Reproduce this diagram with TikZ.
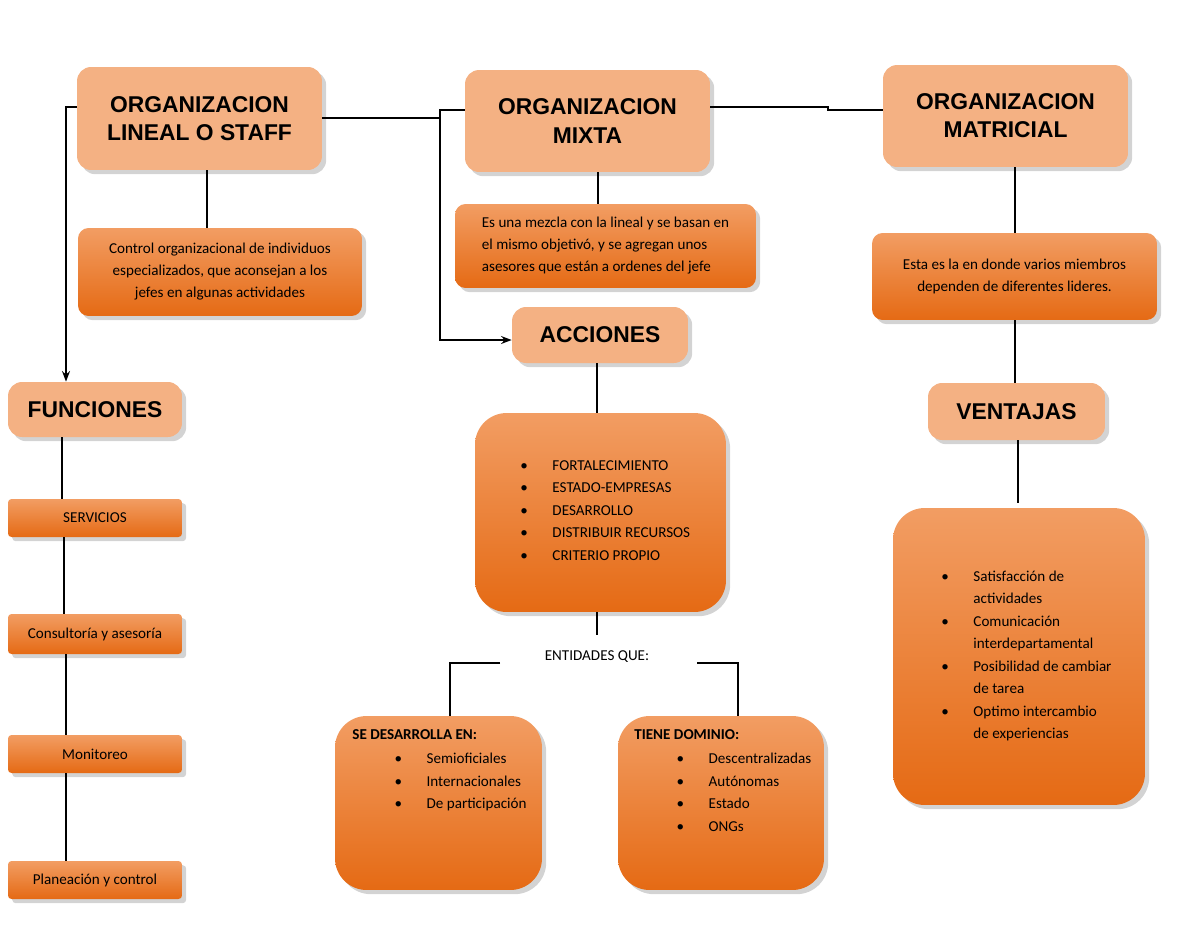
\documentclass[tikz,border=0pt]{standalone}
\usepackage{fontspec}
\setmainfont{Carlito}
\newfontfamily\headfont{Liberation Sans}
\usetikzlibrary{shadows,arrows.meta}
\definecolor{peach}{HTML}{F4B183}
\definecolor{orangetop}{HTML}{F29D63}
\definecolor{orangebot}{HTML}{E56A14}
\begin{document}
\begin{tikzpicture}[x=0.02cm,y=-0.02cm,
    head/.style={draw=none,fill=peach,rounded corners=8pt,drop shadow={opacity=0.35},
      font=\headfont\bfseries\fontsize{13}{16}\selectfont,align=center},
    body/.style={draw=none,top color=orangetop,bottom color=orangebot,rounded corners=6pt,
      drop shadow={opacity=0.35},font=\fontsize{8.6}{12.5}\selectfont,align=center},
    big/.style={body,rounded corners=18pt},
    item/.style={body,rounded corners=2pt,font=\fontsize{8.6}{10}\selectfont},
    list/.style={font=\fontsize{8.6}{12.8}\selectfont,align=left,anchor=north west,inner sep=0pt},
    link/.style={line width=1.4pt}]
  \useasboundingbox (0,0) rectangle (1200,927);

  % Top row
  \node[head,minimum width=4.9cm,minimum height=2.06cm] (lineal) at (199.5,118.5) {ORGANIZACION\\LINEAL O STAFF};
  \node[head,minimum width=4.9cm,minimum height=2.04cm] (mixta) at (587.5,121) {ORGANIZACION\\MIXTA};
  \node[head,minimum width=4.9cm,minimum height=2.04cm] (matricial) at (1005.5,116) {ORGANIZACION\\MATRICIAL};

  % Descriptions
  \node[body,minimum width=5.68cm,minimum height=1.76cm] (lindesc) at (220,272)
    {Control organizacional de individuos\\especializados, que aconsejan a los\\jefes en algunas actividades};
  \node[body,minimum width=6.02cm,minimum height=1.68cm,align=left] (mixdesc) at (605.5,246)
    {Es una mezcla con la lineal y se basan en\\el mismo objetivó, y se agregan unos\\asesores que están a ordenes del jefe};
  \node[body,minimum width=5.7cm,minimum height=1.74cm] (matdesc) at (1014.5,276.5)
    {Esta es la en donde varios miembros\\dependen de diferentes lideres.};

  % Second level
  \node[head,minimum width=3.52cm,minimum height=1.12cm] (acciones) at (600,335) {ACCIONES};
  \node[head,minimum width=3.48cm,minimum height=1.1cm] (funciones) at (95,409.5) {FUNCIONES};
  \node[head,minimum width=3.54cm,minimum height=1.14cm] (ventajas) at (1016.5,411.5) {VENTAJAS};

  % Acciones list
  \node[big,minimum width=5.02cm,minimum height=3.98cm] (accbox) at (600.5,512.5) {};
  \node[list] (acclist) at (520,454) {%
    \begin{tabular}{@{}l@{\hspace{14pt}}l@{}}
    \textbullet & FORTALECIMIENTO\\
    \textbullet & ESTADO-EMPRESAS\\
    \textbullet & DESARROLLO\\
    \textbullet & DISTRIBUIR RECURSOS\\
    \textbullet & CRITERIO PROPIO
    \end{tabular}};
  \node[font=\fontsize{8.6}{10}\selectfont] (entidades) at (597,657) {ENTIDADES QUE:};

  % Entidades boxes
  \node[big,minimum width=4.14cm,minimum height=3.48cm] (desbox) at (438.5,803) {};
  \node[list] (deslist) at (352,729) {%
    \textbf{SE DESARROLLA EN:}\\[4pt]
    \hspace{24pt}\begin{tabular}{@{}l@{\hspace{14pt}}l@{}}
    \textbullet & Semioficiales\\
    \textbullet & Internacionales\\
    \textbullet & De participación
    \end{tabular}};
  \node[big,minimum width=4.12cm,minimum height=3.48cm] (dombox) at (721,803) {};
  \node[list] (domlist) at (634,729) {%
    \textbf{TIENE DOMINIO:}\\[4pt]
    \hspace{24pt}\begin{tabular}{@{}l@{\hspace{14pt}}l@{}}
    \textbullet & Descentralizadas\\
    \textbullet & Autónomas\\
    \textbullet & Estado\\
    \textbullet & ONGs
    \end{tabular}};

  % Ventajas list
  \node[big,minimum width=5.04cm,minimum height=5.94cm] (ventbox) at (1019,656.5) {};
  \node[list] (ventlist) at (941,565) {%
    \begin{tabular}{@{}l@{\hspace{14pt}}l@{}}
    \textbullet & Satisfacción de\\
    & actividades\\
    \textbullet & Comunicación\\
    & interdepartamental\\
    \textbullet & Posibilidad de cambiar\\
    & de tarea\\
    \textbullet & Optimo intercambio\\
    & de experiencias
    \end{tabular}};

  % Funciones items
  \node[item,minimum width=3.48cm,minimum height=0.76cm] (servicios) at (95,518) {SERVICIOS};
  \node[item,minimum width=3.48cm,minimum height=0.8cm] (consultoria) at (95,634) {Consultoría y asesoría};
  \node[item,minimum width=3.48cm,minimum height=0.76cm] (monitoreo) at (95,754) {Monitoreo};
  \node[item,minimum width=3.48cm,minimum height=0.76cm] (planeacion) at (95,880) {Planeación y control};

  % Connectors
  \draw[link,-{Stealth[length=6pt]}] (lineal.west |- 0,107) -- (66,107) -- (66,107 |- funciones.north);
  \draw[link] (lineal.east |- 0,118) -- (440,118) -- (440,110) -- (mixta.west |- 0,110);
  \draw[link,-{Stealth[length=6pt]}] (440,118) -- (440,340) -- (acciones.west |- 0,340);
  \draw[link] (mixta.east |- 0,107) -- (828,107) -- (828,110) -- (matricial.west |- 0,110);
  \draw[link] (207,0 |- lineal.south) -- (207,0 |- lindesc.north);
  \draw[link] (598,0 |- mixta.south) -- (598,0 |- mixdesc.north);
  \draw[link] (1015,0 |- matricial.south) -- (1015,0 |- matdesc.north);
  \draw[link] (1015,0 |- matdesc.south) -- (1015,0 |- ventajas.north);
  \draw[link] (1018,0 |- ventajas.south) -- (1018,503);
  \draw[link] (597,0 |- acciones.south) -- (597,0 |- accbox.north);
  \draw[link] (597,0 |- accbox.south) -- (597,635);
  \draw[link] (500,663) -- (450,663) -- (450,0 |- desbox.north);
  \draw[link] (697,663) -- (738,663) -- (738,0 |- dombox.north);
  \draw[link] (62,0 |- funciones.south) -- (62,0 |- servicios.north);
  \draw[link] (64,0 |- servicios.south) -- (64,0 |- consultoria.north);
  \draw[link] (66,0 |- consultoria.south) -- (66,0 |- monitoreo.north);
  \draw[link] (66,0 |- monitoreo.south) -- (66,0 |- planeacion.north);
\end{tikzpicture}
\end{document}
